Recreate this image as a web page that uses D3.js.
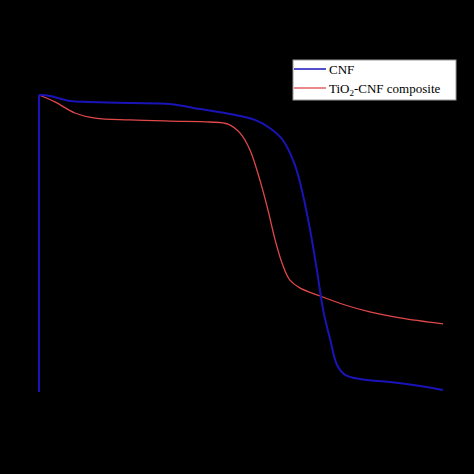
<!DOCTYPE html>
<html>
<head>
<meta charset="utf-8">
<script src="https://cdn.jsdelivr.net/npm/d3@7"></script>
<style>
html, body { margin: 0; padding: 0; background: #000; }
.lg text { font-family: "Liberation Serif", "DejaVu Serif", serif; font-size: 13px; }
</style>
</head>
<body>
<script>
// temperature (approx.) and weight %
var cnfX = [0, 24.5, 69, 114, 203, 292, 359, 425, 481, 514, 543, 570, 588, 604, 619, 633, 649, 664, 682, 715, 782, 849, 900];
var cnfY = [100, 99.7, 98, 97.7, 97.3, 97, 95.3, 93.7, 91.7, 89, 85, 76.7, 66.7, 55, 41.7, 28.3, 18.3, 10, 6.7, 5.3, 4.3, 3, 1.7];
var cnfStartY = 1;
var tiX = [0, 35.6, 80, 125, 203, 292, 381, 421, 448, 470, 492, 510, 526, 543, 559, 581, 626, 682, 737, 804, 900];
var tiY = [100, 97.7, 94, 92.3, 91.7, 91.3, 91, 90.3, 87.3, 81.7, 71.7, 61.7, 51.7, 43.3, 38.3, 35.7, 33, 30, 27.7, 25.7, 23.7];
var seriesNames = ["CNF", "TiO2-CNF composite"];

var W = 474, H = 474;
var svg = d3.select("body").append("svg")
    .attr("width", W).attr("height", H)
    .style("background", "#000");

var x = d3.scaleLinear().domain([0, 900]).range([39, 443]);
var y = d3.scaleLinear().domain([0, 100]).range([395, 95]);

// axes are black on black in the source
svg.append("g").attr("transform", "translate(0,395)")
    .call(d3.axisBottom(x).ticks(9))
    .attr("color", "#000");
svg.append("g").attr("transform", "translate(39,0)")
    .call(d3.axisLeft(y).ticks(5))
    .attr("color", "#000");

var line = d3.line()
    .x(function(d){ return x(d[0]); })
    .y(function(d){ return y(d[1]); })
    .curve(d3.curveCatmullRom);

svg.append("path")
    .datum(d3.zip(tiX, tiY))
    .attr("d", line)
    .attr("fill", "none")
    .attr("stroke", "#e0484a")
    .attr("stroke-width", 1.3);

// vertical start segment of CNF
svg.append("path")
    .datum([[cnfX[0], cnfStartY], [cnfX[0], cnfY[0]]])
    .attr("d", d3.line().x(function(d){ return x(d[0]); }).y(function(d){ return y(d[1]); }))
    .attr("fill", "none")
    .attr("stroke", "#1a14b8")
    .attr("stroke-width", 2);

svg.append("path")
    .datum(d3.zip(cnfX, cnfY))
    .attr("d", line)
    .attr("fill", "none")
    .attr("stroke", "#1a14b8")
    .attr("stroke-width", 2);

// legend
var lg = svg.append("g").attr("class", "lg");
lg.append("rect")
    .attr("x", 293).attr("y", 60).attr("width", 163).attr("height", 40)
    .attr("fill", "#fff").attr("stroke", "#999");
lg.append("line").attr("x1", 294).attr("x2", 326).attr("y1", 69).attr("y2", 69)
    .attr("stroke", "#1a14b8").attr("stroke-width", 1.5);
lg.append("line").attr("x1", 294).attr("x2", 326).attr("y1", 88).attr("y2", 88)
    .attr("stroke", "#e0484a").attr("stroke-width", 1.3);
lg.append("text").attr("x", 329).attr("y", 73.5)
    .text(seriesNames[0]);
var t2 = lg.append("text").attr("x", 329).attr("y", 92.5);
t2.append("tspan").text("TiO");
t2.append("tspan").style("font-size", "9px").attr("dy", 3).text("2");
t2.append("tspan").attr("dy", -3).text("-CNF composite");
</script>
</body>
</html>
